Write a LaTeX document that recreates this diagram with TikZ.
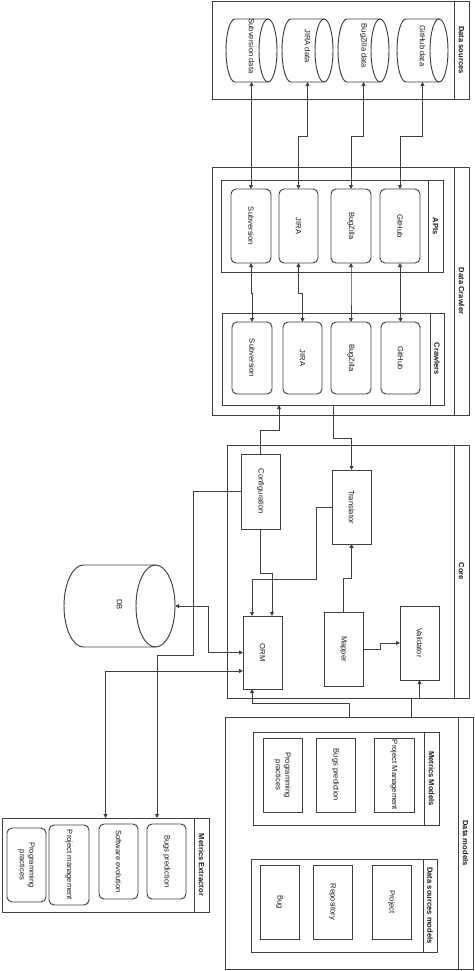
\documentclass[tikz,border=0pt]{standalone}
\usepackage{fontspec}
\setmainfont{Liberation Sans}
\usetikzlibrary{arrows.meta,calc}
\newcommand\drawcyl[5]{%
  \draw[ln] ({#3-#5},#2) -- ({#1+#5},#2) arc[start angle=270,end angle=90,x radius=#5,y radius={(#4-#2)/2}] -- ({#3-#5},#4);
  \draw[ln] ({#3-#5},{(#2+#4)/2}) ellipse[x radius=#5,y radius={(#4-#2)/2}];
}
\begin{document}
\begin{tikzpicture}[x=1pt,y=-1pt,
  ln/.style={draw=black!75,line width=0.95pt},
  >={Triangle[length=4pt,width=4pt]},
  lbl/.style={rotate=-90,align=center,text=black!90,font=\fontsize{7.6pt}{9.5pt}\selectfont,inner sep=0pt},
  txt/.style={label={[lbl]center:#1}},
  sq/.style={ln,rectangle,inner sep=0pt,outer sep=0pt,minimum width=39pt,minimum height=74pt},
  rnd/.style={sq,rounded corners=5pt},
  lane/.style={ln,rectangle,inner sep=0pt,outer sep=0pt},
  ttl/.style={rotate=-90,inner sep=0pt,text=black!90,font=\bfseries\fontsize{7.6pt}{9.5pt}\selectfont},
  cyl/.style={rectangle,inner sep=0pt,outer sep=0pt},
  con/.style={ln}
]
\fill[white] (0,0) rectangle (474,971);
\useasboundingbox (0,0) rectangle (474,971);

% ---------- Data sources ----------
\node[lane,minimum width=257pt,minimum height=98pt] (ds) at (340.5,50) {};
\draw[ln] ([xshift=-15pt]ds.north east) -- ([xshift=-15pt]ds.south east);
\node[ttl] (ds_t) at ([xshift=-7.5pt]ds.east) {Data sources};

\drawcyl{226}{19}{277}{82}{9}
\drawcyl{282}{19}{333}{82}{9}
\drawcyl{338}{19}{389}{82}{9}
\drawcyl{397}{19}{448}{82}{9}
\node[cyl,minimum width=51pt,minimum height=63pt,label={[lbl,xshift=-4.5pt]center:Subversion data}] (svn_data) at (251.5,50.5) {};
\node[cyl,minimum width=51pt,minimum height=63pt,label={[lbl,xshift=-4.5pt]center:JIRA data}] (jira_data) at (307.5,50.5) {};
\node[cyl,minimum width=51pt,minimum height=63pt,label={[lbl,xshift=-4.5pt]center:BugZilla data}] (bz_data) at (363.5,50.5) {};
\node[cyl,minimum width=51pt,minimum height=63pt,label={[lbl,xshift=-4.5pt]center:GitHub data}] (gh_data) at (422.5,50.5) {};

% ---------- Data Crawler ----------
\node[lane,minimum width=257pt,minimum height=248pt] (dc) at (340.5,291) {};
\draw[ln] ([xshift=-15pt]dc.north east) -- ([xshift=-15pt]dc.south east);
\node[ttl] (dc_t) at ([xshift=-7.5pt]dc.east) {Data Crawler};

\node[lane,minimum width=222pt,minimum height=92pt] (apis) at (332,226) {};
\draw[ln] ([xshift=-15pt]apis.north east) -- ([xshift=-15pt]apis.south east);
\node[ttl] (apis_t) at ([xshift=-7.5pt]apis.east) {APIs};

\node[rnd,minimum width=40pt,txt={Subversion}] (api_svn) at (251,226) {};
\node[rnd,txt={JIRA}] (api_jira) at (298.5,226) {};
\node[rnd,minimum width=40pt,txt={BugZilla}] (api_bz) at (351,226) {};
\node[rnd,minimum width=40pt,txt={GitHub}] (api_gh) at (400,226) {};

\node[lane,minimum width=222pt,minimum height=92pt] (crawlers) at (333,359) {};
\draw[ln] ([xshift=-14pt]crawlers.north east) -- ([xshift=-14pt]crawlers.south east);
\node[ttl] (crawlers_t) at ([xshift=-7pt]crawlers.east) {Crawlers};

\node[rnd,minimum width=40pt,minimum height=72pt,txt={Subversion}] (cr_svn) at (252,358) {};
\node[rnd,minimum height=72pt,txt={JIRA}] (cr_jira) at (302.5,358) {};
\node[rnd,minimum width=40pt,minimum height=72pt,txt={BugZilla}] (cr_bz) at (351,358) {};
\node[rnd,minimum height=72pt,txt={GitHub}] (cr_gh) at (400.5,358) {};

% ---------- Core ----------
\node[lane,minimum width=242pt,minimum height=253pt] (core) at (348,571.5) {};
\draw[ln] ([xshift=-15pt]core.north east) -- ([xshift=-15pt]core.south east);
\node[ttl] (core_t) at ([xshift=-7.5pt]core.east) {Core};

\node[sq,minimum height=75pt,txt={Configuration}] (config) at (260.5,491.5) {};
\node[sq,txt={Translator}] (translator) at (351.5,507) {};
\node[sq,minimum height=73pt,txt={ORM}] (orm) at (262.5,652.5) {};
\node[sq,txt={Mapper}] (mapper) at (343.5,649) {};
\node[sq,txt={Validator}] (validator) at (419.5,643) {};

% DB
\drawcyl{64}{565}{175}{647}{19.5}
\node[cyl,minimum width=111pt,minimum height=82pt,label={[lbl,xshift=-1.5pt]center:DB}] (db) at (119.5,606) {};

% ---------- Data models ----------
\node[lane,minimum width=248pt,minimum height=252pt] (dm) at (349,843) {};
\draw[ln] ([xshift=-15pt]dm.north east) -- ([xshift=-15pt]dm.south east);
\node[ttl] (dm_t) at ([xshift=-7.5pt]dm.east) {Data models};

\node[lane,minimum width=186pt,minimum height=93pt] (mm) at (346,778.5) {};
\draw[ln] ([xshift=-15pt]mm.north east) -- ([xshift=-15pt]mm.south east);
\node[ttl] (mm_t) at ([xshift=-7.5pt]mm.east) {Metrics Models};

\node[sq,txt={Programming\\practices}] (mm_pp) at (282.5,775) {};
\node[sq,txt={Bugs prediction}] (mm_bp) at (335.5,775) {};
\node[sq,minimum width=40pt,txt={Project Management}] (mm_pm) at (394,775) {};

\node[lane,minimum width=186pt,minimum height=93pt] (dsm) at (344,905.5) {};
\draw[ln] ([xshift=-14pt]dsm.north east) -- ([xshift=-14pt]dsm.south east);
\node[ttl] (dsm_t) at ([xshift=-7pt]dsm.east) {Data sources models};

\node[sq,txt={Bug}] (ds_bug) at (279.5,902) {};
\node[sq,txt={Repository}] (ds_repo) at (332.5,902) {};
\node[sq,txt={Project}] (ds_proj) at (391.5,902) {};

% ---------- Metrics Extractor ----------
\node[lane,minimum width=207pt,minimum height=94pt] (me) at (105.5,865) {};
\draw[ln] ([xshift=-15pt]me.north east) -- ([xshift=-15pt]me.south east);
\node[ttl] (me_t) at ([xshift=-7.5pt]me.east) {Metrics Extractor};

\node[rnd,txt={Programming\\practices}] (me_pp) at (26.5,865) {};
\node[rnd,minimum width=40pt,minimum height=80pt,txt={Project management}] (me_pm) at (69,865) {};
\node[rnd,minimum height=75pt,txt={Software evolution}] (me_se) at (118.5,861.5) {};
\node[rnd,minimum height=75pt,txt={Bugs prediction}] (me_bp) at (166.5,861.5) {};

% ---------- Connectors ----------
\draw[con,<->] (svn_data.south) -- ++(0,54) -| (api_svn.north);
\draw[con,<->] (jira_data.south) -- ++(0,54) -| (api_jira.north);
\draw[con,<->] (bz_data.south) -- ++(0,54) -| (api_bz.north);
\draw[con,<->] (gh_data.south) -- ++(0,54) -| (api_gh.north);

\draw[con,<->] (api_svn.south) -- ++(0,30) -| (cr_svn.north);
\draw[con,<->] (api_jira.south) -- ++(0,30) -| (cr_jira.north);
\draw[con,<->] (api_bz.south) -- ++(0,30) -| (cr_bz.north);
\draw[con,<->] (api_gh.south) -- ++(0,30) -| (cr_gh.north);

\draw[con,->] (config.north) -- ++(0,-24) -| ([xshift=-54pt]crawlers.south);
\draw[con,->] (crawlers.south) -- ++(0,33) -| (translator.north);
\draw[con,->] (config.west) -- ++(-48,0) -- ++(0,163.5) -| ([xshift=51.5pt]me.north);
\draw[con,<->] (db.east) -- ++(33,0) |- (orm.west);
\draw[con,<->] (me.north) |- ([yshift=-18.5pt]orm.west);
\draw[con,->] (config.south) -- ++(0,44) -| ([xshift=9.5pt]orm.north);
\draw[con,->] (translator.west) -- ++(-16,0) -- ++(0,72) -| ([xshift=-10.5pt]orm.north);
\draw[con,->] (mapper.north) -- ++(0,-34) -| (translator.south);
\draw[con,->] (mapper.east) -- ++(17,0) |- (validator.west);
\draw[con,->] (dm.north) -- ++(0,-14) -| ([xshift=-10.5pt]orm.south);
\draw[con,->] ([xshift=62pt]dm.north) -- ++(0,-19) -| (validator.south);
\end{tikzpicture}
\end{document}
